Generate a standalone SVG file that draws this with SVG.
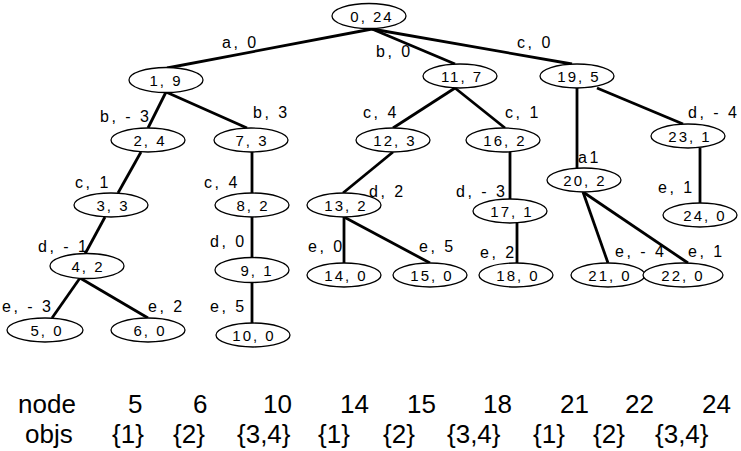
<svg xmlns="http://www.w3.org/2000/svg" width="741" height="451" viewBox="0 0 741 451">
<style>
.nd ellipse{fill:#fff;stroke:#000;stroke-width:1.3}
.nd text{font-family:"Liberation Sans",Arial,sans-serif;font-size:15px;letter-spacing:2px;text-anchor:middle;fill:#000}
#edges line{stroke:#000;stroke-width:2.8}
.el{font-family:"Liberation Sans",Arial,sans-serif;font-size:16px;letter-spacing:2.5px;fill:#000}
.tb{font-family:"Liberation Sans",Arial,sans-serif;font-size:26px;fill:#000}
</style>
<rect width="741" height="451" fill="#fff"/>
<g id="edges">
<line x1="372" y1="29" x2="167" y2="68"/>
<line x1="372" y1="29" x2="455" y2="64"/>
<line x1="372" y1="29" x2="572" y2="64"/>
<line x1="166" y1="92" x2="148" y2="128"/>
<line x1="166" y1="92" x2="247" y2="128"/>
<line x1="455" y1="88" x2="393" y2="128"/>
<line x1="455" y1="88" x2="505" y2="128"/>
<line x1="577" y1="88" x2="577" y2="168"/>
<line x1="597" y1="88" x2="683" y2="124"/>
<line x1="141" y1="152" x2="118" y2="193"/>
<line x1="105" y1="217" x2="85" y2="254"/>
<line x1="80" y1="278" x2="52" y2="318"/>
<line x1="80" y1="278" x2="148" y2="318"/>
<line x1="252" y1="152" x2="252" y2="193"/>
<line x1="252" y1="217" x2="252" y2="258"/>
<line x1="252" y1="282" x2="252" y2="323"/>
<line x1="393" y1="152" x2="343" y2="193"/>
<line x1="344" y1="217" x2="344" y2="263"/>
<line x1="344" y1="217" x2="430" y2="263"/>
<line x1="510" y1="152" x2="510" y2="199"/>
<line x1="517" y1="223" x2="517" y2="263"/>
<line x1="583" y1="192" x2="608" y2="263"/>
<line x1="583" y1="192" x2="688" y2="263"/>
<line x1="700" y1="148" x2="700" y2="203"/>
</g>
<g id="n0" class="nd"><ellipse cx="369" cy="16" rx="37" ry="12.5"/><text x="372" y="22">0, 24</text></g>
<g id="n1" class="nd"><ellipse cx="166" cy="80" rx="37" ry="12.5"/><text x="166" y="86">1, 9</text></g>
<g id="n2" class="nd"><ellipse cx="148" cy="140" rx="37" ry="12"/><text x="150" y="146">2, 4</text></g>
<g id="n3" class="nd"><ellipse cx="111" cy="205" rx="37" ry="12"/><text x="113" y="211">3, 3</text></g>
<g id="n4" class="nd"><ellipse cx="87" cy="266" rx="37" ry="12.5"/><text x="88" y="272">4, 2</text></g>
<g id="n5" class="nd"><ellipse cx="45" cy="330" rx="38" ry="12"/><text x="47" y="336">5, 0</text></g>
<g id="n6" class="nd"><ellipse cx="148" cy="330" rx="37" ry="12"/><text x="150" y="336">6, 0</text></g>
<g id="n7" class="nd"><ellipse cx="251" cy="140" rx="37" ry="12"/><text x="252" y="146">7, 3</text></g>
<g id="n8" class="nd"><ellipse cx="252" cy="205" rx="37" ry="12"/><text x="253" y="211">8, 2</text></g>
<g id="n9" class="nd"><ellipse cx="252" cy="270" rx="37" ry="12.5"/><text x="257" y="276">9, 1</text></g>
<g id="n10" class="nd"><ellipse cx="253" cy="335" rx="37" ry="12"/><text x="254" y="341">10, 0</text></g>
<g id="n11" class="nd"><ellipse cx="460" cy="76" rx="37" ry="12"/><text x="462" y="82">11, 7</text></g>
<g id="n12" class="nd"><ellipse cx="393" cy="140" rx="37" ry="12"/><text x="395" y="146">12, 3</text></g>
<g id="n13" class="nd"><ellipse cx="344" cy="205" rx="37" ry="12"/><text x="346" y="211">13, 2</text></g>
<g id="n14" class="nd"><ellipse cx="344" cy="275" rx="37" ry="12"/><text x="346" y="281">14, 0</text></g>
<g id="n15" class="nd"><ellipse cx="430" cy="275" rx="37" ry="12"/><text x="432" y="281">15, 0</text></g>
<g id="n16" class="nd"><ellipse cx="503" cy="140" rx="37" ry="12"/><text x="505" y="146">16, 2</text></g>
<g id="n17" class="nd"><ellipse cx="510" cy="211" rx="37" ry="12"/><text x="512" y="217">17, 1</text></g>
<g id="n18" class="nd"><ellipse cx="516" cy="275" rx="37" ry="12"/><text x="518" y="281">18, 0</text></g>
<g id="n19" class="nd"><ellipse cx="577" cy="76" rx="37" ry="12"/><text x="579" y="82">19, 5</text></g>
<g id="n20" class="nd"><ellipse cx="584" cy="180" rx="37" ry="12"/><text x="585" y="186">20, 2</text></g>
<g id="n21" class="nd"><ellipse cx="608" cy="275" rx="37" ry="12"/><text x="610" y="281">21, 0</text></g>
<g id="n22" class="nd"><ellipse cx="683" cy="275" rx="40" ry="12"/><text x="683" y="281">22, 0</text></g>
<g id="n23" class="nd"><ellipse cx="688" cy="136" rx="37" ry="12"/><text x="690" y="142">23, 1</text></g>
<g id="n24" class="nd"><ellipse cx="700" cy="215" rx="37" ry="12"/><text x="705" y="221">24, 0</text></g>
<g id="edge-labels">
<text class="el" x="222" y="48">a, 0</text>
<text class="el" x="376" y="57">b, 0</text>
<text class="el" x="517" y="48">c, 0</text>
<text class="el" x="100" y="122">b, - 3</text>
<text class="el" x="253" y="118">b, 3</text>
<text class="el" x="363" y="118">c, 4</text>
<text class="el" x="505" y="118">c, 1</text>
<text class="el" x="688" y="118">d, - 4</text>
<text class="el" x="75" y="188">c, 1</text>
<text class="el" x="204" y="188">c, 4</text>
<text class="el" x="38" y="252">d, - 1</text>
<text class="el" x="210" y="247">d, 0</text>
<text class="el" x="2" y="312">e, - 3</text>
<text class="el" x="148" y="312">e, 2</text>
<text class="el" x="210" y="312">e, 5</text>
<text class="el" x="369" y="197">d, 2</text>
<text class="el" x="456" y="197">d, - 3</text>
<text class="el" x="578" y="163">a1</text>
<text class="el" x="658" y="193">e, 1</text>
<text class="el" x="308" y="252">e, 0</text>
<text class="el" x="419" y="252">e, 5</text>
<text class="el" x="480" y="258">e, 2</text>
<text class="el" x="615" y="257">e, - 4</text>
<text class="el" x="688" y="257">e, 1</text>
</g>
<g id="table" class="tb">
<text x="18" y="413">node</text>
<text x="25" y="443">objs</text>
<text x="128" y="413">5</text>
<text x="193" y="413">6</text>
<text x="263" y="413">10</text>
<text x="340" y="413">14</text>
<text x="407" y="413">15</text>
<text x="483" y="413">18</text>
<text x="560" y="413">21</text>
<text x="625" y="413">22</text>
<text x="702" y="413">24</text>
<text x="112" y="443">{1}</text>
<text x="173" y="443">{2}</text>
<text x="237" y="443">{3,4}</text>
<text x="318" y="443">{1}</text>
<text x="383" y="443">{2}</text>
<text x="447" y="443">{3,4}</text>
<text x="533" y="443">{1}</text>
<text x="593" y="443">{2}</text>
<text x="655" y="443">{3,4}</text>
</g>
</svg>
